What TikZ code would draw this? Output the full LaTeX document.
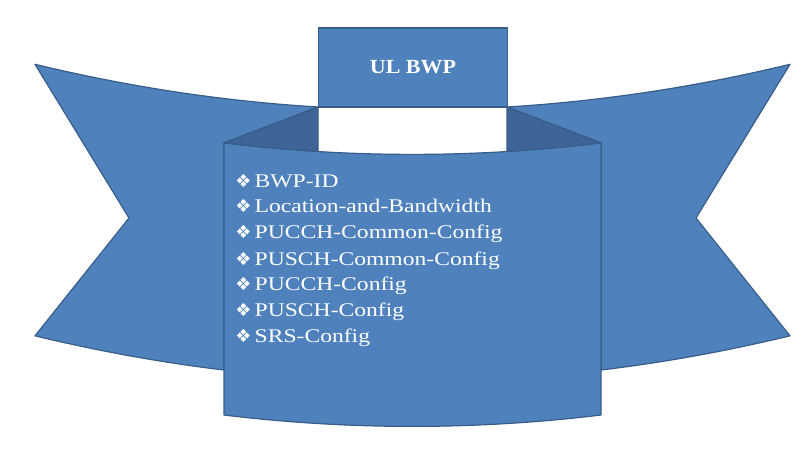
\documentclass[tikz,border=0pt]{standalone}
\usepackage{fontspec}
\setmainfont{Liberation Serif}[FakeStretch=1.22]
\newfontfamily\titlefont{Liberation Serif}[FakeStretch=1.1]
\newfontfamily\symfont{DejaVu Sans}
\definecolor{ribbon}{HTML}{4F81BD}
\definecolor{ribbonline}{HTML}{385D8A}
\definecolor{ribbonfold}{HTML}{3F6598}
\tikzset{
  wing/.style={fill=ribbon, draw=ribbonline, line width=0.9pt, line join=round},
  foldpart/.style={fill=ribbonfold, draw=ribbonline, line width=0.9pt, line join=round},
  titlebox/.style={fill=ribbon, draw=ribbonline, line width=0.9pt, text=white,
    minimum width=141.75pt, minimum height=59.25pt, inner sep=0pt,
    font=\titlefont\fontsize{15}{18}\selectfont\bfseries},
  listtext/.style={text=white, align=left, inner sep=0pt,
    font=\fontsize{14.5}{19.5}\selectfont}
}
\newcommand{\bul}{{\symfont\fontsize{13.5}{12}\selectfont ❖}\hspace{2.5pt}}
\begin{document}
\begin{tikzpicture}[x=0.75pt,y=-0.75pt,
  declare function={rb(\x,\c)=\c-((\x-412.5)*0.01789)^2;}]
\useasboundingbox (0,0) rectangle (808,456);
% left wing
\path[wing] (35,{rb(35,109.86)}) -- plot[domain=35:318,samples=50] (\x,{rb(\x,109.86)})
  -- (224,143) -- (224,370) -- plot[domain=224:35,samples=50] (\x,{rb(\x,381.4)})
  -- (129,218) -- cycle;
% right wing
\path[wing] (507,107) -- plot[domain=507:790,samples=50] (\x,{rb(\x,109.86)})
  -- (696,218) -- (790,{rb(790,381.4)}) -- plot[domain=790:601,samples=50] (\x,{rb(\x,381.4)})
  -- (601,143) -- cycle;
% folds
\path[foldpart] (318,107) -- (224,143) -- plot[domain=224:318,samples=20] (\x,{rb(\x,154.4)}) -- cycle;
\path[foldpart] (507,107) -- (601,143) -- plot[domain=601:507,samples=20] (\x,{rb(\x,154.4)}) -- cycle;
% front panel
\path[wing] (224,143) -- plot[domain=224:601,samples=80] (\x,{rb(\x,154.4)})
  -- (601,415) -- plot[domain=601:224,samples=80] (\x,{rb(\x,426.4)}) -- cycle;
% title box
\node[titlebox] (title) at (413,67.5) {UL BWP};
% list
\node[listtext, anchor=base west] (list) at (235,343) {%
\bul BWP-ID\\
\bul Location-and-Bandwidth\\
\bul PUCCH-Common-Config\\
\bul PUSCH-Common-Config\\
\bul PUCCH-Config\\
\bul PUSCH-Config\\
\bul SRS-Config};
\end{tikzpicture}
\end{document}
